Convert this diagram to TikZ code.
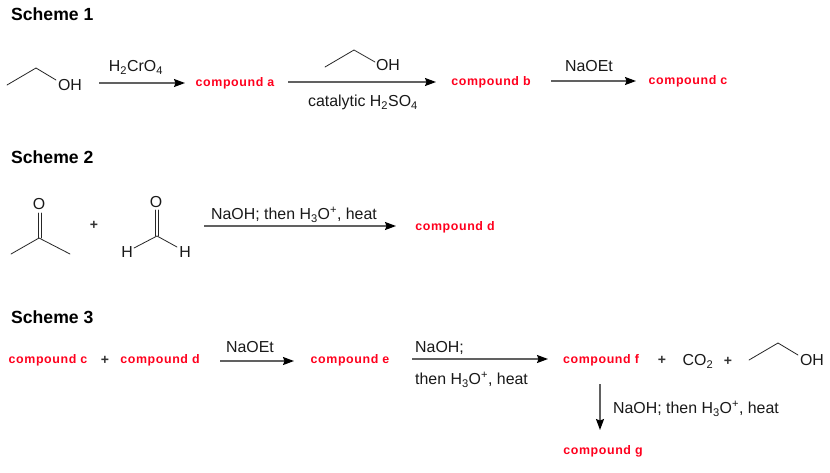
\documentclass[tikz,border=0pt]{standalone}
\usepackage{fontspec}
\setmainfont{Liberation Sans}
\newfontfamily\cmpdfont[LetterSpace=5]{Liberation Sans}
\usetikzlibrary{arrows.meta}
\definecolor{cmpred}{RGB}{255,0,30}
\tikzset{
  chem/.style={inner sep=0pt,yshift=-0.5pt,font=\fontsize{15.9}{18}\selectfont,text=black!90},
  atom/.style={inner sep=0pt,font=\fontsize{15.9}{18}\selectfont,text=black!90},
  plussign/.style={inner sep=0pt,font=\fontsize{14}{16}\selectfont\bfseries,text=black!80},
  cmpd/.style={inner sep=0pt,yshift=-1pt,font=\cmpdfont\fontsize{12.4}{14}\selectfont\bfseries,text=cmpred},
  title/.style={inner sep=0pt,anchor=west,font=\fontsize{17.6}{20}\selectfont\bfseries},
  rxn/.style={draw=black!62,line width=1.4pt,-{Stealth[length=11pt,width=8pt,inset=1.5pt,color=black]}},
  bond/.style={draw=black!85,line width=0.8pt,line cap=round}
}
\begin{document}
\begin{tikzpicture}[x=1pt,y=-1pt]
\useasboundingbox (0,0) rectangle (830,472);
\fill[white] (0,0) rectangle (830,472);
% titles
\node[title] (t1) at (11,14) {Scheme 1};
\node[title] (t2) at (11,157) {Scheme 2};
\node[title] (t3) at (11,317) {Scheme 3};
% Scheme 1
\coordinate (e1a) at (7,85); \coordinate (e1b) at (36,68); \coordinate (e1c) at (56,80);
\node[atom] (oh1) at (70,85) {OH};
\draw[bond] (e1a) -- (e1b) -- (e1c);
\coordinate (a1s) at (99,83); \coordinate (a1e) at (185,83);
\draw[rxn] (a1s) -- (a1e);
\node[chem] (l1) at (136,67) {H\textsubscript{2}CrO\textsubscript{4}};
\node[cmpd] (ca) at (235,82) {compound a};
\coordinate (a2s) at (288,82); \coordinate (a2e) at (436,82);
\draw[rxn] (a2s) -- (a2e);
\coordinate (e2a) at (325,67); \coordinate (e2b) at (354,50); \coordinate (e2c) at (375,62);
\node[atom] (oh2) at (388,65) {OH};
\draw[bond] (e2a) -- (e2b) -- (e2c);
\node[chem] (l2) at (363,102) {catalytic H\textsubscript{2}SO\textsubscript{4}};
\node[cmpd] (cb) at (491,81) {compound b};
\coordinate (a3s) at (551,81); \coordinate (a3e) at (636,81);
\draw[rxn] (a3s) -- (a3e);
\node[chem] (l3) at (589,66) {NaOEt};
\node[cmpd] (cc) at (688,80) {compound c};
% Scheme 2
\node[atom] (o1) at (39,204) {O};
\coordinate (ac) at (39,238); \coordinate (al) at (11,254); \coordinate (ar) at (70,254);
\draw[bond] (al) -- (ac) -- (ar);
\coordinate (d1a) at (38,213); \coordinate (d1b) at (38,238);
\coordinate (d2a) at (41.5,213); \coordinate (d2b) at (41.5,238);
\draw[bond] (d1a) -- (d1b); \draw[bond] (d2a) -- (d2b);
\node[plussign] (p1) at (94,225) {+};
\node[atom] (o2) at (156,202) {O};
\coordinate (fc) at (157,236); \coordinate (fl) at (134,248); \coordinate (fr) at (177,247);
\node[atom] (h1) at (127,252) {H};
\node[atom] (h2) at (185,252) {H};
\draw[bond] (fl) -- (fc) -- (fr);
\coordinate (d3a) at (155,210); \coordinate (d3b) at (155,236);
\coordinate (d4a) at (158.5,210); \coordinate (d4b) at (158.5,236);
\draw[bond] (d3a) -- (d3b); \draw[bond] (d4a) -- (d4b);
\coordinate (a4s) at (204,226); \coordinate (a4e) at (396,226);
\draw[rxn] (a4s) -- (a4e);
\node[chem] (l4) at (294,214) {NaOH; then H\textsubscript{3}O\textsuperscript{+}, heat};
\node[cmpd] (cd) at (455,226) {compound d};
% Scheme 3
\node[cmpd] (cc2) at (48,359) {compound c};
\node[plussign] (p2) at (105,360) {+};
\node[cmpd] (cd2) at (160,359) {compound d};
\coordinate (a5s) at (220,361); \coordinate (a5e) at (294,361);
\draw[rxn] (a5s) -- (a5e);
\node[chem] (l5) at (250,347) {NaOEt};
\node[cmpd] (ce) at (350,359) {compound e};
\coordinate (a6s) at (412,359); \coordinate (a6e) at (548,359);
\draw[rxn] (a6s) -- (a6e);
\node[chem,anchor=west] (l6) at (415,347) {NaOH;};
\node[chem,anchor=west] (l7) at (415,379) {then H\textsubscript{3}O\textsuperscript{+}, heat};
\node[cmpd] (cf) at (601,359) {compound f};
\node[plussign] (p3) at (662,360) {+};
\node[chem] (co2) at (698,361) {CO\textsubscript{2}};
\node[plussign] (p4) at (728,361) {+};
\coordinate (e3a) at (749,360); \coordinate (e3b) at (778,343); \coordinate (e3c) at (798,355);
\node[atom] (oh3) at (812,360) {OH};
\draw[bond] (e3a) -- (e3b) -- (e3c);
\coordinate (a7s) at (600,384); \coordinate (a7e) at (600,430);
\draw[rxn] (a7s) -- (a7e);
\node[chem] (l8) at (696,408) {NaOH; then H\textsubscript{3}O\textsuperscript{+}, heat};
\node[cmpd] (cg) at (603,450) {compound g};
\end{tikzpicture}
\end{document}
